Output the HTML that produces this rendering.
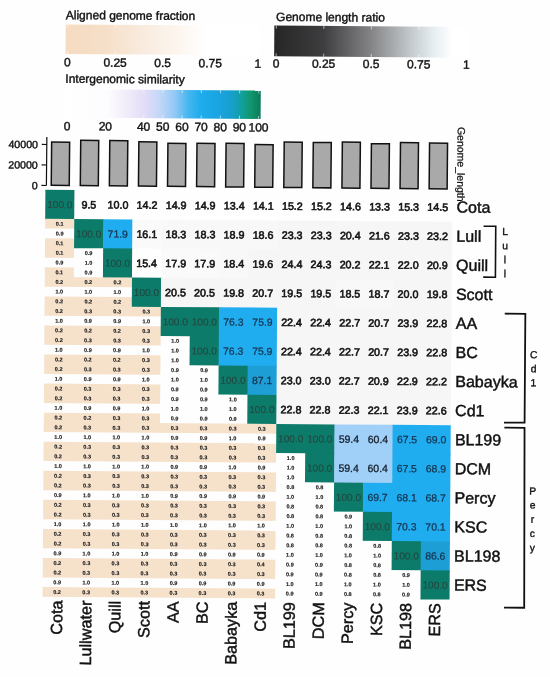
<!DOCTYPE html>
<html lang="en"><head><meta charset="utf-8"><title>Intergenomic similarity heatmap</title>
<style>
html,body{margin:0;padding:0;background:#fefefe;}
body{width:550px;height:677px;overflow:hidden;font-family:"Liberation Sans",Arial,Helvetica,sans-serif;}
svg{display:block;filter:blur(0.3px);}
</style></head><body>
<svg width="550" height="677" viewBox="0 0 550 677" font-family="'Liberation Sans', Arial, Helvetica, sans-serif">
<defs>
<linearGradient id="gfrac" x1="0" x2="1" y1="0" y2="0">
<stop offset="0" stop-color="#f5dbc1"/><stop offset="0.2" stop-color="#f6dfc8"/><stop offset="0.4" stop-color="#f9ebde"/><stop offset="0.6" stop-color="#fdf7f1"/><stop offset="0.72" stop-color="#ffffff"/><stop offset="1" stop-color="#ffffff"/>
</linearGradient>
<linearGradient id="gratio" x1="0" x2="1" y1="0" y2="0">
<stop offset="0" stop-color="#262626"/><stop offset="0.25" stop-color="#3d3d3f"/><stop offset="0.5" stop-color="#858587"/><stop offset="0.7" stop-color="#c3c8cc"/><stop offset="0.82" stop-color="#e6eef2"/><stop offset="0.92" stop-color="#ffffff"/><stop offset="1" stop-color="#ffffff"/>
</linearGradient>
<linearGradient id="gsim" x1="0" x2="1" y1="0" y2="0">
<stop offset="0" stop-color="#ffffff"/><stop offset="0.2" stop-color="#fdfcfe"/><stop offset="0.22" stop-color="#fdfbfe"/><stop offset="0.32" stop-color="#f1ebf9"/><stop offset="0.41" stop-color="#e2dcf7"/><stop offset="0.48" stop-color="#c4d8f8"/><stop offset="0.56" stop-color="#93c9f6"/><stop offset="0.63" stop-color="#45b6ef"/><stop offset="0.69" stop-color="#1fadee"/><stop offset="0.8" stop-color="#18a3de"/><stop offset="0.86" stop-color="#169fc8"/><stop offset="0.91" stop-color="#10a094"/><stop offset="0.95" stop-color="#10966c"/><stop offset="1" stop-color="#0b7a5c"/>
</linearGradient>
</defs>
<rect width="550" height="677" fill="#fefefe"/>
<g transform="rotate(0.4 45.4 189.8)">
<text x="64.60" y="19.00" font-size="12" text-anchor="start" fill="#111" stroke="#111" stroke-width="0.4">Aligned genome fraction</text>
<rect x="64.6" y="24.4" width="194.40" height="29.50" fill="url(#gfrac)"/>
<text x="66.60" y="66.20" font-size="12" text-anchor="middle" fill="#111" stroke="#111" stroke-width="0.4">0</text>
<path d="M66.60 24.4 v3 M66.60 53.9 v-3" stroke="#fff" stroke-width="0.8" opacity="0.75" fill="none"/>
<text x="114.20" y="66.20" font-size="12" text-anchor="middle" fill="#111" stroke="#111" stroke-width="0.4">0.25</text>
<path d="M114.20 24.4 v3 M114.20 53.9 v-3" stroke="#fff" stroke-width="0.8" opacity="0.75" fill="none"/>
<text x="161.80" y="66.20" font-size="12" text-anchor="middle" fill="#111" stroke="#111" stroke-width="0.4">0.5</text>
<path d="M161.80 24.4 v3 M161.80 53.9 v-3" stroke="#fff" stroke-width="0.8" opacity="0.75" fill="none"/>
<text x="209.40" y="66.20" font-size="12" text-anchor="middle" fill="#111" stroke="#111" stroke-width="0.4">0.75</text>
<path d="M209.40 24.4 v3 M209.40 53.9 v-3" stroke="#fff" stroke-width="0.8" opacity="0.75" fill="none"/>
<text x="257.00" y="66.20" font-size="12" text-anchor="middle" fill="#111" stroke="#111" stroke-width="0.4">1</text>
<path d="M257.00 24.4 v3 M257.00 53.9 v-3" stroke="#fff" stroke-width="0.8" opacity="0.75" fill="none"/>
<text x="274.90" y="19.30" font-size="12" text-anchor="start" fill="#111" stroke="#111" stroke-width="0.4">Genome length ratio</text>
<rect x="273.2" y="24.0" width="194.20" height="30.70" fill="url(#gratio)"/>
<text x="275.20" y="65.80" font-size="12" text-anchor="middle" fill="#111" stroke="#111" stroke-width="0.4">0</text>
<path d="M275.20 24.0 v3 M275.20 54.7 v-3" stroke="#fff" stroke-width="0.8" opacity="0.75" fill="none"/>
<text x="322.75" y="65.80" font-size="12" text-anchor="middle" fill="#111" stroke="#111" stroke-width="0.4">0.25</text>
<path d="M322.75 24.0 v3 M322.75 54.7 v-3" stroke="#fff" stroke-width="0.8" opacity="0.75" fill="none"/>
<text x="370.30" y="65.80" font-size="12" text-anchor="middle" fill="#111" stroke="#111" stroke-width="0.4">0.5</text>
<path d="M370.30 24.0 v3 M370.30 54.7 v-3" stroke="#fff" stroke-width="0.8" opacity="0.75" fill="none"/>
<text x="417.85" y="65.80" font-size="12" text-anchor="middle" fill="#111" stroke="#111" stroke-width="0.4">0.75</text>
<path d="M417.85 24.0 v3 M417.85 54.7 v-3" stroke="#fff" stroke-width="0.8" opacity="0.75" fill="none"/>
<text x="465.40" y="65.80" font-size="12" text-anchor="middle" fill="#111" stroke="#111" stroke-width="0.4">1</text>
<path d="M465.40 24.0 v3 M465.40 54.7 v-3" stroke="#fff" stroke-width="0.8" opacity="0.75" fill="none"/>
<text x="64.60" y="82.60" font-size="12" text-anchor="start" fill="#111" stroke="#111" stroke-width="0.4">Intergenomic similarity</text>
<rect x="64.6" y="89.0" width="195.50" height="28.40" fill="url(#gsim)"/>
<text x="66.60" y="130.00" font-size="12" text-anchor="middle" fill="#111" stroke="#111" stroke-width="0.4">0</text>
<path d="M66.60 89.0 v3 M66.60 117.4 v-3" stroke="#fff" stroke-width="0.8" opacity="0.75" fill="none"/>
<text x="104.90" y="130.00" font-size="12" text-anchor="middle" fill="#111" stroke="#111" stroke-width="0.4">20</text>
<path d="M104.90 89.0 v3 M104.90 117.4 v-3" stroke="#fff" stroke-width="0.8" opacity="0.75" fill="none"/>
<text x="143.20" y="130.00" font-size="12" text-anchor="middle" fill="#111" stroke="#111" stroke-width="0.4">40</text>
<path d="M143.20 89.0 v3 M143.20 117.4 v-3" stroke="#fff" stroke-width="0.8" opacity="0.75" fill="none"/>
<text x="162.35" y="130.00" font-size="12" text-anchor="middle" fill="#111" stroke="#111" stroke-width="0.4">50</text>
<path d="M162.35 89.0 v3 M162.35 117.4 v-3" stroke="#fff" stroke-width="0.8" opacity="0.75" fill="none"/>
<text x="181.50" y="130.00" font-size="12" text-anchor="middle" fill="#111" stroke="#111" stroke-width="0.4">60</text>
<path d="M181.50 89.0 v3 M181.50 117.4 v-3" stroke="#fff" stroke-width="0.8" opacity="0.75" fill="none"/>
<text x="200.65" y="130.00" font-size="12" text-anchor="middle" fill="#111" stroke="#111" stroke-width="0.4">70</text>
<path d="M200.65 89.0 v3 M200.65 117.4 v-3" stroke="#fff" stroke-width="0.8" opacity="0.75" fill="none"/>
<text x="219.80" y="130.00" font-size="12" text-anchor="middle" fill="#111" stroke="#111" stroke-width="0.4">80</text>
<path d="M219.80 89.0 v3 M219.80 117.4 v-3" stroke="#fff" stroke-width="0.8" opacity="0.75" fill="none"/>
<text x="238.95" y="130.00" font-size="12" text-anchor="middle" fill="#111" stroke="#111" stroke-width="0.4">90</text>
<path d="M238.95 89.0 v3 M238.95 117.4 v-3" stroke="#fff" stroke-width="0.8" opacity="0.75" fill="none"/>
<text x="258.10" y="130.00" font-size="12" text-anchor="middle" fill="#111" stroke="#111" stroke-width="0.4">100</text>
<path d="M258.10 89.0 v3 M258.10 117.4 v-3" stroke="#fff" stroke-width="0.8" opacity="0.75" fill="none"/>
</g>
<g transform="rotate(0.54 46.4 185.5)">
<path d="M46.4 137 V185.5 M41.4 144.5 H46.4 M41.4 165 H46.4 M41.4 185.5 H46.4" stroke="#111" stroke-width="1.2" fill="none"/>
<text x="37.60" y="148.30" font-size="10.6" text-anchor="end" fill="#111" stroke="#111" stroke-width="0.4">40000</text>
<text x="37.60" y="168.80" font-size="10.6" text-anchor="end" fill="#111" stroke="#111" stroke-width="0.4">20000</text>
<text x="37.60" y="189.30" font-size="10.6" text-anchor="end" fill="#111" stroke="#111" stroke-width="0.4">0</text>
<rect x="51.23" y="142.00" width="18.0" height="43.20" fill="#a9a9a9" stroke="#111" stroke-width="1.5"/>
<rect x="80.30" y="140.00" width="18.0" height="45.20" fill="#a9a9a9" stroke="#111" stroke-width="1.5"/>
<rect x="109.37" y="140.00" width="18.0" height="45.20" fill="#a9a9a9" stroke="#111" stroke-width="1.5"/>
<rect x="138.45" y="140.90" width="18.0" height="44.30" fill="#a9a9a9" stroke="#111" stroke-width="1.5"/>
<rect x="167.52" y="142.20" width="18.0" height="43.00" fill="#a9a9a9" stroke="#111" stroke-width="1.5"/>
<rect x="196.59" y="141.90" width="18.0" height="43.30" fill="#a9a9a9" stroke="#111" stroke-width="1.5"/>
<rect x="225.66" y="141.60" width="18.0" height="43.60" fill="#a9a9a9" stroke="#111" stroke-width="1.5"/>
<rect x="254.73" y="142.50" width="18.0" height="42.70" fill="#a9a9a9" stroke="#111" stroke-width="1.5"/>
<rect x="283.80" y="139.80" width="18.0" height="45.40" fill="#a9a9a9" stroke="#111" stroke-width="1.5"/>
<rect x="312.87" y="139.90" width="18.0" height="45.30" fill="#a9a9a9" stroke="#111" stroke-width="1.5"/>
<rect x="341.94" y="139.20" width="18.0" height="46.00" fill="#a9a9a9" stroke="#111" stroke-width="1.5"/>
<rect x="371.00" y="140.60" width="18.0" height="44.60" fill="#a9a9a9" stroke="#111" stroke-width="1.5"/>
<rect x="400.07" y="139.20" width="18.0" height="46.00" fill="#a9a9a9" stroke="#111" stroke-width="1.5"/>
<rect x="429.14" y="139.50" width="18.0" height="45.70" fill="#a9a9a9" stroke="#111" stroke-width="1.5"/>
</g>
<g transform="rotate(0.4 45.4 189.8)">
<text transform="translate(457.2 124.0) rotate(90)" font-size="10.5" fill="#111" stroke="#111" stroke-width="0.25">Genome_length</text>
<rect x="45.40" y="189.80" width="29.57" height="30.07" fill="#0d7b69"/>
<rect x="74.47" y="189.80" width="377.91" height="30.07" fill="#fefefe"/>
<rect x="45.40" y="218.87" width="29.57" height="10.69" fill="#f6e1cb"/>
<rect x="45.40" y="228.56" width="29.57" height="10.69" fill="#fefefe"/>
<rect x="45.40" y="238.25" width="29.57" height="10.69" fill="#f6e1cb"/>
<rect x="74.47" y="218.87" width="29.57" height="30.07" fill="#0d7b69"/>
<rect x="103.54" y="218.87" width="29.57" height="30.07" fill="#20adef"/>
<rect x="132.61" y="218.87" width="29.57" height="30.07" fill="#fafafb"/>
<rect x="161.68" y="218.87" width="116.78" height="30.07" fill="#f8f8f9"/>
<rect x="277.96" y="218.87" width="174.42" height="30.07" fill="#f6f6f7"/>
<rect x="45.40" y="247.94" width="29.57" height="10.69" fill="#f6e1cb"/>
<rect x="74.47" y="247.94" width="29.57" height="10.69" fill="#fefefe"/>
<rect x="45.40" y="257.63" width="58.64" height="10.69" fill="#fefefe"/>
<rect x="45.40" y="267.32" width="29.57" height="10.69" fill="#f6e1cb"/>
<rect x="74.47" y="267.32" width="29.57" height="10.69" fill="#fefefe"/>
<rect x="103.54" y="247.94" width="29.57" height="30.07" fill="#0d7b69"/>
<rect x="132.61" y="247.94" width="29.57" height="30.07" fill="#fefefe"/>
<rect x="161.68" y="247.94" width="58.64" height="30.07" fill="#fafafb"/>
<rect x="219.82" y="247.94" width="29.57" height="30.07" fill="#f8f8f9"/>
<rect x="248.89" y="247.94" width="203.49" height="30.07" fill="#f6f6f7"/>
<rect x="45.40" y="277.01" width="87.71" height="10.69" fill="#f6e1cb"/>
<rect x="45.40" y="286.70" width="87.71" height="10.69" fill="#fefefe"/>
<rect x="45.40" y="296.39" width="87.71" height="10.69" fill="#f6e1cb"/>
<rect x="132.61" y="277.01" width="29.57" height="30.07" fill="#0d7b69"/>
<rect x="161.68" y="277.01" width="174.92" height="30.07" fill="#f6f6f7"/>
<rect x="336.10" y="277.01" width="58.64" height="30.07" fill="#f8f8f9"/>
<rect x="394.24" y="277.01" width="58.14" height="30.07" fill="#f6f6f7"/>
<rect x="45.40" y="306.08" width="116.78" height="10.69" fill="#f6e1cb"/>
<rect x="45.40" y="315.77" width="116.78" height="10.69" fill="#fefefe"/>
<rect x="45.40" y="325.46" width="116.78" height="10.69" fill="#f6e1cb"/>
<rect x="161.68" y="306.08" width="58.64" height="30.07" fill="#0d7b69"/>
<rect x="219.82" y="306.08" width="58.64" height="30.07" fill="#20adef"/>
<rect x="277.96" y="306.08" width="174.42" height="30.07" fill="#f6f6f7"/>
<rect x="45.40" y="335.15" width="116.78" height="10.69" fill="#f6e1cb"/>
<rect x="161.68" y="335.15" width="29.57" height="10.69" fill="#fefefe"/>
<rect x="45.40" y="344.84" width="145.85" height="10.69" fill="#fefefe"/>
<rect x="45.40" y="354.53" width="116.78" height="10.69" fill="#f6e1cb"/>
<rect x="161.68" y="354.53" width="29.57" height="10.69" fill="#fefefe"/>
<rect x="190.75" y="335.15" width="29.57" height="30.07" fill="#0d7b69"/>
<rect x="219.82" y="335.15" width="58.64" height="30.07" fill="#20adef"/>
<rect x="277.96" y="335.15" width="174.42" height="30.07" fill="#f6f6f7"/>
<rect x="45.40" y="364.22" width="116.78" height="10.69" fill="#f6e1cb"/>
<rect x="161.68" y="364.22" width="58.64" height="10.69" fill="#fefefe"/>
<rect x="45.40" y="373.91" width="174.92" height="10.69" fill="#fefefe"/>
<rect x="45.40" y="383.60" width="116.78" height="10.69" fill="#f6e1cb"/>
<rect x="161.68" y="383.60" width="58.64" height="10.69" fill="#fefefe"/>
<rect x="219.82" y="364.22" width="29.57" height="30.07" fill="#0d7b69"/>
<rect x="248.89" y="364.22" width="29.57" height="30.07" fill="#1d9fd6"/>
<rect x="277.96" y="364.22" width="174.42" height="30.07" fill="#f6f6f7"/>
<rect x="45.40" y="393.29" width="116.78" height="10.69" fill="#f6e1cb"/>
<rect x="161.68" y="393.29" width="87.71" height="10.69" fill="#fefefe"/>
<rect x="45.40" y="402.98" width="203.99" height="10.69" fill="#fefefe"/>
<rect x="45.40" y="412.67" width="116.78" height="10.69" fill="#f6e1cb"/>
<rect x="161.68" y="412.67" width="87.71" height="10.69" fill="#fefefe"/>
<rect x="248.89" y="393.29" width="29.57" height="30.07" fill="#0d7b69"/>
<rect x="277.96" y="393.29" width="174.42" height="30.07" fill="#f6f6f7"/>
<rect x="45.40" y="422.36" width="233.06" height="10.69" fill="#f6e1cb"/>
<rect x="45.40" y="432.05" width="233.06" height="10.69" fill="#fefefe"/>
<rect x="45.40" y="441.74" width="233.06" height="10.69" fill="#f6e1cb"/>
<rect x="277.96" y="422.36" width="58.64" height="30.07" fill="#0d7b69"/>
<rect x="336.10" y="422.36" width="58.64" height="30.07" fill="#a0cff8"/>
<rect x="394.24" y="422.36" width="58.14" height="30.07" fill="#20adef"/>
<rect x="45.40" y="451.43" width="233.06" height="10.69" fill="#f6e1cb"/>
<rect x="277.96" y="451.43" width="29.57" height="10.69" fill="#fefefe"/>
<rect x="45.40" y="461.12" width="262.13" height="10.69" fill="#fefefe"/>
<rect x="45.40" y="470.81" width="233.06" height="10.69" fill="#f6e1cb"/>
<rect x="277.96" y="470.81" width="29.57" height="10.69" fill="#fefefe"/>
<rect x="307.03" y="451.43" width="29.57" height="30.07" fill="#0d7b69"/>
<rect x="336.10" y="451.43" width="58.64" height="30.07" fill="#a0cff8"/>
<rect x="394.24" y="451.43" width="58.14" height="30.07" fill="#20adef"/>
<rect x="45.40" y="480.50" width="233.06" height="10.69" fill="#f6e1cb"/>
<rect x="277.96" y="480.50" width="58.64" height="10.69" fill="#fefefe"/>
<rect x="45.40" y="490.19" width="291.20" height="10.69" fill="#fefefe"/>
<rect x="45.40" y="499.88" width="233.06" height="10.69" fill="#f6e1cb"/>
<rect x="277.96" y="499.88" width="58.64" height="10.69" fill="#fefefe"/>
<rect x="336.10" y="480.50" width="29.57" height="30.07" fill="#0d7b69"/>
<rect x="365.17" y="480.50" width="87.21" height="30.07" fill="#20adef"/>
<rect x="45.40" y="509.57" width="233.06" height="10.69" fill="#f6e1cb"/>
<rect x="277.96" y="509.57" width="87.71" height="10.69" fill="#fefefe"/>
<rect x="45.40" y="519.26" width="320.27" height="10.69" fill="#fefefe"/>
<rect x="45.40" y="528.95" width="233.06" height="10.69" fill="#f6e1cb"/>
<rect x="277.96" y="528.95" width="87.71" height="10.69" fill="#fefefe"/>
<rect x="365.17" y="509.57" width="29.57" height="30.07" fill="#0d7b69"/>
<rect x="394.24" y="509.57" width="58.14" height="30.07" fill="#20adef"/>
<rect x="45.40" y="538.64" width="233.06" height="10.69" fill="#f6e1cb"/>
<rect x="277.96" y="538.64" width="116.78" height="10.69" fill="#fefefe"/>
<rect x="45.40" y="548.33" width="349.34" height="10.69" fill="#fefefe"/>
<rect x="45.40" y="558.02" width="233.06" height="10.69" fill="#f6e1cb"/>
<rect x="277.96" y="558.02" width="116.78" height="10.69" fill="#fefefe"/>
<rect x="394.24" y="538.64" width="29.57" height="30.07" fill="#0d7b69"/>
<rect x="423.31" y="538.64" width="29.07" height="30.07" fill="#1d9fd6"/>
<rect x="45.40" y="567.71" width="233.06" height="10.69" fill="#f6e1cb"/>
<rect x="277.96" y="567.71" width="145.85" height="10.69" fill="#fefefe"/>
<rect x="45.40" y="577.40" width="378.41" height="10.69" fill="#fefefe"/>
<rect x="45.40" y="587.09" width="233.06" height="9.69" fill="#f6e1cb"/>
<rect x="277.96" y="587.09" width="145.85" height="9.69" fill="#fefefe"/>
<rect x="423.31" y="567.71" width="29.07" height="29.07" fill="#0d7b69"/>
<text x="59.94" y="208.03" font-size="10.1" text-anchor="middle" fill="#234740" stroke="#234740" stroke-width="0.1">100.0</text>
<text x="89.00" y="208.14" font-size="10.7" text-anchor="middle" fill="#141414" stroke="#141414" stroke-width="0.6">9.5</text>
<text x="118.07" y="208.14" font-size="10.7" text-anchor="middle" fill="#141414" stroke="#141414" stroke-width="0.6">10.0</text>
<text x="147.15" y="208.14" font-size="10.7" text-anchor="middle" fill="#141414" stroke="#141414" stroke-width="0.6">14.2</text>
<text x="176.22" y="208.14" font-size="10.7" text-anchor="middle" fill="#141414" stroke="#141414" stroke-width="0.6">14.9</text>
<text x="205.28" y="208.14" font-size="10.7" text-anchor="middle" fill="#141414" stroke="#141414" stroke-width="0.6">14.9</text>
<text x="234.36" y="208.14" font-size="10.7" text-anchor="middle" fill="#141414" stroke="#141414" stroke-width="0.6">13.4</text>
<text x="263.43" y="208.14" font-size="10.7" text-anchor="middle" fill="#141414" stroke="#141414" stroke-width="0.6">14.1</text>
<text x="292.50" y="208.14" font-size="10.7" text-anchor="middle" fill="#141414" stroke="#141414" stroke-width="0.6">15.2</text>
<text x="321.56" y="208.14" font-size="10.7" text-anchor="middle" fill="#141414" stroke="#141414" stroke-width="0.6">15.2</text>
<text x="350.63" y="208.14" font-size="10.7" text-anchor="middle" fill="#141414" stroke="#141414" stroke-width="0.6">14.6</text>
<text x="379.70" y="208.14" font-size="10.7" text-anchor="middle" fill="#141414" stroke="#141414" stroke-width="0.6">13.3</text>
<text x="408.77" y="208.14" font-size="10.7" text-anchor="middle" fill="#141414" stroke="#141414" stroke-width="0.6">15.3</text>
<text x="437.84" y="208.14" font-size="10.7" text-anchor="middle" fill="#141414" stroke="#141414" stroke-width="0.6">14.5</text>
<text x="59.94" y="225.66" font-size="5.5" text-anchor="middle" fill="#1c1c1c" font-weight="bold" stroke="#1c1c1c" stroke-width="0.15">0.1</text>
<text x="59.94" y="235.35" font-size="5.5" text-anchor="middle" fill="#1c1c1c" font-weight="bold" stroke="#1c1c1c" stroke-width="0.15">0.9</text>
<text x="59.94" y="245.04" font-size="5.5" text-anchor="middle" fill="#1c1c1c" font-weight="bold" stroke="#1c1c1c" stroke-width="0.15">0.1</text>
<text x="89.00" y="237.10" font-size="10.1" text-anchor="middle" fill="#234740" stroke="#234740" stroke-width="0.1">100.0</text>
<text x="118.07" y="237.10" font-size="10.4" text-anchor="middle" fill="#16334f" stroke="#16334f" stroke-width="0.25">71.9</text>
<text x="147.15" y="237.21" font-size="10.7" text-anchor="middle" fill="#141414" stroke="#141414" stroke-width="0.6">16.1</text>
<text x="176.22" y="237.21" font-size="10.7" text-anchor="middle" fill="#141414" stroke="#141414" stroke-width="0.6">18.3</text>
<text x="205.28" y="237.21" font-size="10.7" text-anchor="middle" fill="#141414" stroke="#141414" stroke-width="0.6">18.3</text>
<text x="234.36" y="237.21" font-size="10.7" text-anchor="middle" fill="#141414" stroke="#141414" stroke-width="0.6">18.9</text>
<text x="263.43" y="237.21" font-size="10.7" text-anchor="middle" fill="#141414" stroke="#141414" stroke-width="0.6">18.6</text>
<text x="292.50" y="237.21" font-size="10.7" text-anchor="middle" fill="#141414" stroke="#141414" stroke-width="0.6">23.3</text>
<text x="321.56" y="237.21" font-size="10.7" text-anchor="middle" fill="#141414" stroke="#141414" stroke-width="0.6">23.3</text>
<text x="350.63" y="237.21" font-size="10.7" text-anchor="middle" fill="#141414" stroke="#141414" stroke-width="0.6">20.4</text>
<text x="379.70" y="237.21" font-size="10.7" text-anchor="middle" fill="#141414" stroke="#141414" stroke-width="0.6">21.6</text>
<text x="408.77" y="237.21" font-size="10.7" text-anchor="middle" fill="#141414" stroke="#141414" stroke-width="0.6">23.3</text>
<text x="437.84" y="237.21" font-size="10.7" text-anchor="middle" fill="#141414" stroke="#141414" stroke-width="0.6">23.2</text>
<text x="59.94" y="254.73" font-size="5.5" text-anchor="middle" fill="#1c1c1c" font-weight="bold" stroke="#1c1c1c" stroke-width="0.15">0.1</text>
<text x="59.94" y="264.43" font-size="5.5" text-anchor="middle" fill="#1c1c1c" font-weight="bold" stroke="#1c1c1c" stroke-width="0.15">0.9</text>
<text x="59.94" y="274.12" font-size="5.5" text-anchor="middle" fill="#1c1c1c" font-weight="bold" stroke="#1c1c1c" stroke-width="0.15">0.1</text>
<text x="89.00" y="254.73" font-size="5.5" text-anchor="middle" fill="#1c1c1c" font-weight="bold" stroke="#1c1c1c" stroke-width="0.15">0.9</text>
<text x="89.00" y="264.43" font-size="5.5" text-anchor="middle" fill="#1c1c1c" font-weight="bold" stroke="#1c1c1c" stroke-width="0.15">1.0</text>
<text x="89.00" y="274.12" font-size="5.5" text-anchor="middle" fill="#1c1c1c" font-weight="bold" stroke="#1c1c1c" stroke-width="0.15">0.9</text>
<text x="118.07" y="266.18" font-size="10.1" text-anchor="middle" fill="#234740" stroke="#234740" stroke-width="0.1">100.0</text>
<text x="147.15" y="266.28" font-size="10.7" text-anchor="middle" fill="#141414" stroke="#141414" stroke-width="0.6">15.4</text>
<text x="176.22" y="266.28" font-size="10.7" text-anchor="middle" fill="#141414" stroke="#141414" stroke-width="0.6">17.9</text>
<text x="205.28" y="266.28" font-size="10.7" text-anchor="middle" fill="#141414" stroke="#141414" stroke-width="0.6">17.9</text>
<text x="234.36" y="266.28" font-size="10.7" text-anchor="middle" fill="#141414" stroke="#141414" stroke-width="0.6">18.4</text>
<text x="263.43" y="266.28" font-size="10.7" text-anchor="middle" fill="#141414" stroke="#141414" stroke-width="0.6">19.6</text>
<text x="292.50" y="266.28" font-size="10.7" text-anchor="middle" fill="#141414" stroke="#141414" stroke-width="0.6">24.4</text>
<text x="321.56" y="266.28" font-size="10.7" text-anchor="middle" fill="#141414" stroke="#141414" stroke-width="0.6">24.3</text>
<text x="350.63" y="266.28" font-size="10.7" text-anchor="middle" fill="#141414" stroke="#141414" stroke-width="0.6">20.2</text>
<text x="379.70" y="266.28" font-size="10.7" text-anchor="middle" fill="#141414" stroke="#141414" stroke-width="0.6">22.1</text>
<text x="408.77" y="266.28" font-size="10.7" text-anchor="middle" fill="#141414" stroke="#141414" stroke-width="0.6">22.0</text>
<text x="437.84" y="266.28" font-size="10.7" text-anchor="middle" fill="#141414" stroke="#141414" stroke-width="0.6">20.9</text>
<text x="59.94" y="283.81" font-size="5.5" text-anchor="middle" fill="#1c1c1c" font-weight="bold" stroke="#1c1c1c" stroke-width="0.15">0.2</text>
<text x="59.94" y="293.50" font-size="5.5" text-anchor="middle" fill="#1c1c1c" font-weight="bold" stroke="#1c1c1c" stroke-width="0.15">1.0</text>
<text x="59.94" y="303.19" font-size="5.5" text-anchor="middle" fill="#1c1c1c" font-weight="bold" stroke="#1c1c1c" stroke-width="0.15">0.2</text>
<text x="89.00" y="283.81" font-size="5.5" text-anchor="middle" fill="#1c1c1c" font-weight="bold" stroke="#1c1c1c" stroke-width="0.15">0.2</text>
<text x="89.00" y="293.50" font-size="5.5" text-anchor="middle" fill="#1c1c1c" font-weight="bold" stroke="#1c1c1c" stroke-width="0.15">1.0</text>
<text x="89.00" y="303.19" font-size="5.5" text-anchor="middle" fill="#1c1c1c" font-weight="bold" stroke="#1c1c1c" stroke-width="0.15">0.2</text>
<text x="118.07" y="283.81" font-size="5.5" text-anchor="middle" fill="#1c1c1c" font-weight="bold" stroke="#1c1c1c" stroke-width="0.15">0.2</text>
<text x="118.07" y="293.50" font-size="5.5" text-anchor="middle" fill="#1c1c1c" font-weight="bold" stroke="#1c1c1c" stroke-width="0.15">1.0</text>
<text x="118.07" y="303.19" font-size="5.5" text-anchor="middle" fill="#1c1c1c" font-weight="bold" stroke="#1c1c1c" stroke-width="0.15">0.2</text>
<text x="147.15" y="295.25" font-size="10.1" text-anchor="middle" fill="#234740" stroke="#234740" stroke-width="0.1">100.0</text>
<text x="176.22" y="295.35" font-size="10.7" text-anchor="middle" fill="#141414" stroke="#141414" stroke-width="0.6">20.5</text>
<text x="205.28" y="295.35" font-size="10.7" text-anchor="middle" fill="#141414" stroke="#141414" stroke-width="0.6">20.5</text>
<text x="234.36" y="295.35" font-size="10.7" text-anchor="middle" fill="#141414" stroke="#141414" stroke-width="0.6">19.8</text>
<text x="263.43" y="295.35" font-size="10.7" text-anchor="middle" fill="#141414" stroke="#141414" stroke-width="0.6">20.7</text>
<text x="292.50" y="295.35" font-size="10.7" text-anchor="middle" fill="#141414" stroke="#141414" stroke-width="0.6">19.5</text>
<text x="321.56" y="295.35" font-size="10.7" text-anchor="middle" fill="#141414" stroke="#141414" stroke-width="0.6">19.5</text>
<text x="350.63" y="295.35" font-size="10.7" text-anchor="middle" fill="#141414" stroke="#141414" stroke-width="0.6">18.5</text>
<text x="379.70" y="295.35" font-size="10.7" text-anchor="middle" fill="#141414" stroke="#141414" stroke-width="0.6">18.7</text>
<text x="408.77" y="295.35" font-size="10.7" text-anchor="middle" fill="#141414" stroke="#141414" stroke-width="0.6">20.0</text>
<text x="437.84" y="295.35" font-size="10.7" text-anchor="middle" fill="#141414" stroke="#141414" stroke-width="0.6">19.8</text>
<text x="59.94" y="312.88" font-size="5.5" text-anchor="middle" fill="#1c1c1c" font-weight="bold" stroke="#1c1c1c" stroke-width="0.15">0.2</text>
<text x="59.94" y="322.57" font-size="5.5" text-anchor="middle" fill="#1c1c1c" font-weight="bold" stroke="#1c1c1c" stroke-width="0.15">1.0</text>
<text x="59.94" y="332.26" font-size="5.5" text-anchor="middle" fill="#1c1c1c" font-weight="bold" stroke="#1c1c1c" stroke-width="0.15">0.2</text>
<text x="89.00" y="312.88" font-size="5.5" text-anchor="middle" fill="#1c1c1c" font-weight="bold" stroke="#1c1c1c" stroke-width="0.15">0.3</text>
<text x="89.00" y="322.57" font-size="5.5" text-anchor="middle" fill="#1c1c1c" font-weight="bold" stroke="#1c1c1c" stroke-width="0.15">0.9</text>
<text x="89.00" y="332.26" font-size="5.5" text-anchor="middle" fill="#1c1c1c" font-weight="bold" stroke="#1c1c1c" stroke-width="0.15">0.2</text>
<text x="118.07" y="312.88" font-size="5.5" text-anchor="middle" fill="#1c1c1c" font-weight="bold" stroke="#1c1c1c" stroke-width="0.15">0.3</text>
<text x="118.07" y="322.57" font-size="5.5" text-anchor="middle" fill="#1c1c1c" font-weight="bold" stroke="#1c1c1c" stroke-width="0.15">0.9</text>
<text x="118.07" y="332.26" font-size="5.5" text-anchor="middle" fill="#1c1c1c" font-weight="bold" stroke="#1c1c1c" stroke-width="0.15">0.2</text>
<text x="147.15" y="312.88" font-size="5.5" text-anchor="middle" fill="#1c1c1c" font-weight="bold" stroke="#1c1c1c" stroke-width="0.15">0.3</text>
<text x="147.15" y="322.57" font-size="5.5" text-anchor="middle" fill="#1c1c1c" font-weight="bold" stroke="#1c1c1c" stroke-width="0.15">1.0</text>
<text x="147.15" y="332.26" font-size="5.5" text-anchor="middle" fill="#1c1c1c" font-weight="bold" stroke="#1c1c1c" stroke-width="0.15">0.3</text>
<text x="176.22" y="324.32" font-size="10.1" text-anchor="middle" fill="#234740" stroke="#234740" stroke-width="0.1">100.0</text>
<text x="205.28" y="324.32" font-size="10.1" text-anchor="middle" fill="#234740" stroke="#234740" stroke-width="0.1">100.0</text>
<text x="234.36" y="324.32" font-size="10.4" text-anchor="middle" fill="#16334f" stroke="#16334f" stroke-width="0.25">76.3</text>
<text x="263.43" y="324.32" font-size="10.4" text-anchor="middle" fill="#16334f" stroke="#16334f" stroke-width="0.25">75.9</text>
<text x="292.50" y="324.42" font-size="10.7" text-anchor="middle" fill="#141414" stroke="#141414" stroke-width="0.6">22.4</text>
<text x="321.56" y="324.42" font-size="10.7" text-anchor="middle" fill="#141414" stroke="#141414" stroke-width="0.6">22.4</text>
<text x="350.63" y="324.42" font-size="10.7" text-anchor="middle" fill="#141414" stroke="#141414" stroke-width="0.6">22.7</text>
<text x="379.70" y="324.42" font-size="10.7" text-anchor="middle" fill="#141414" stroke="#141414" stroke-width="0.6">20.7</text>
<text x="408.77" y="324.42" font-size="10.7" text-anchor="middle" fill="#141414" stroke="#141414" stroke-width="0.6">23.9</text>
<text x="437.84" y="324.42" font-size="10.7" text-anchor="middle" fill="#141414" stroke="#141414" stroke-width="0.6">22.8</text>
<text x="59.94" y="341.94" font-size="5.5" text-anchor="middle" fill="#1c1c1c" font-weight="bold" stroke="#1c1c1c" stroke-width="0.15">0.2</text>
<text x="59.94" y="351.63" font-size="5.5" text-anchor="middle" fill="#1c1c1c" font-weight="bold" stroke="#1c1c1c" stroke-width="0.15">1.0</text>
<text x="59.94" y="361.32" font-size="5.5" text-anchor="middle" fill="#1c1c1c" font-weight="bold" stroke="#1c1c1c" stroke-width="0.15">0.2</text>
<text x="89.00" y="341.94" font-size="5.5" text-anchor="middle" fill="#1c1c1c" font-weight="bold" stroke="#1c1c1c" stroke-width="0.15">0.3</text>
<text x="89.00" y="351.63" font-size="5.5" text-anchor="middle" fill="#1c1c1c" font-weight="bold" stroke="#1c1c1c" stroke-width="0.15">0.9</text>
<text x="89.00" y="361.32" font-size="5.5" text-anchor="middle" fill="#1c1c1c" font-weight="bold" stroke="#1c1c1c" stroke-width="0.15">0.2</text>
<text x="118.07" y="341.94" font-size="5.5" text-anchor="middle" fill="#1c1c1c" font-weight="bold" stroke="#1c1c1c" stroke-width="0.15">0.3</text>
<text x="118.07" y="351.63" font-size="5.5" text-anchor="middle" fill="#1c1c1c" font-weight="bold" stroke="#1c1c1c" stroke-width="0.15">0.9</text>
<text x="118.07" y="361.32" font-size="5.5" text-anchor="middle" fill="#1c1c1c" font-weight="bold" stroke="#1c1c1c" stroke-width="0.15">0.2</text>
<text x="147.15" y="341.94" font-size="5.5" text-anchor="middle" fill="#1c1c1c" font-weight="bold" stroke="#1c1c1c" stroke-width="0.15">0.3</text>
<text x="147.15" y="351.63" font-size="5.5" text-anchor="middle" fill="#1c1c1c" font-weight="bold" stroke="#1c1c1c" stroke-width="0.15">1.0</text>
<text x="147.15" y="361.32" font-size="5.5" text-anchor="middle" fill="#1c1c1c" font-weight="bold" stroke="#1c1c1c" stroke-width="0.15">0.3</text>
<text x="176.22" y="341.94" font-size="5.5" text-anchor="middle" fill="#1c1c1c" font-weight="bold" stroke="#1c1c1c" stroke-width="0.15">1.0</text>
<text x="176.22" y="351.63" font-size="5.5" text-anchor="middle" fill="#1c1c1c" font-weight="bold" stroke="#1c1c1c" stroke-width="0.15">1.0</text>
<text x="176.22" y="361.32" font-size="5.5" text-anchor="middle" fill="#1c1c1c" font-weight="bold" stroke="#1c1c1c" stroke-width="0.15">1.0</text>
<text x="205.28" y="353.38" font-size="10.1" text-anchor="middle" fill="#234740" stroke="#234740" stroke-width="0.1">100.0</text>
<text x="234.36" y="353.38" font-size="10.4" text-anchor="middle" fill="#16334f" stroke="#16334f" stroke-width="0.25">76.3</text>
<text x="263.43" y="353.38" font-size="10.4" text-anchor="middle" fill="#16334f" stroke="#16334f" stroke-width="0.25">75.9</text>
<text x="292.50" y="353.49" font-size="10.7" text-anchor="middle" fill="#141414" stroke="#141414" stroke-width="0.6">22.4</text>
<text x="321.56" y="353.49" font-size="10.7" text-anchor="middle" fill="#141414" stroke="#141414" stroke-width="0.6">22.4</text>
<text x="350.63" y="353.49" font-size="10.7" text-anchor="middle" fill="#141414" stroke="#141414" stroke-width="0.6">22.7</text>
<text x="379.70" y="353.49" font-size="10.7" text-anchor="middle" fill="#141414" stroke="#141414" stroke-width="0.6">20.7</text>
<text x="408.77" y="353.49" font-size="10.7" text-anchor="middle" fill="#141414" stroke="#141414" stroke-width="0.6">23.9</text>
<text x="437.84" y="353.49" font-size="10.7" text-anchor="middle" fill="#141414" stroke="#141414" stroke-width="0.6">22.8</text>
<text x="59.94" y="371.02" font-size="5.5" text-anchor="middle" fill="#1c1c1c" font-weight="bold" stroke="#1c1c1c" stroke-width="0.15">0.2</text>
<text x="59.94" y="380.71" font-size="5.5" text-anchor="middle" fill="#1c1c1c" font-weight="bold" stroke="#1c1c1c" stroke-width="0.15">1.0</text>
<text x="59.94" y="390.40" font-size="5.5" text-anchor="middle" fill="#1c1c1c" font-weight="bold" stroke="#1c1c1c" stroke-width="0.15">0.2</text>
<text x="89.00" y="371.02" font-size="5.5" text-anchor="middle" fill="#1c1c1c" font-weight="bold" stroke="#1c1c1c" stroke-width="0.15">0.3</text>
<text x="89.00" y="380.71" font-size="5.5" text-anchor="middle" fill="#1c1c1c" font-weight="bold" stroke="#1c1c1c" stroke-width="0.15">0.9</text>
<text x="89.00" y="390.40" font-size="5.5" text-anchor="middle" fill="#1c1c1c" font-weight="bold" stroke="#1c1c1c" stroke-width="0.15">0.3</text>
<text x="118.07" y="371.02" font-size="5.5" text-anchor="middle" fill="#1c1c1c" font-weight="bold" stroke="#1c1c1c" stroke-width="0.15">0.3</text>
<text x="118.07" y="380.71" font-size="5.5" text-anchor="middle" fill="#1c1c1c" font-weight="bold" stroke="#1c1c1c" stroke-width="0.15">0.9</text>
<text x="118.07" y="390.40" font-size="5.5" text-anchor="middle" fill="#1c1c1c" font-weight="bold" stroke="#1c1c1c" stroke-width="0.15">0.3</text>
<text x="147.15" y="371.02" font-size="5.5" text-anchor="middle" fill="#1c1c1c" font-weight="bold" stroke="#1c1c1c" stroke-width="0.15">0.3</text>
<text x="147.15" y="380.71" font-size="5.5" text-anchor="middle" fill="#1c1c1c" font-weight="bold" stroke="#1c1c1c" stroke-width="0.15">1.0</text>
<text x="147.15" y="390.40" font-size="5.5" text-anchor="middle" fill="#1c1c1c" font-weight="bold" stroke="#1c1c1c" stroke-width="0.15">0.3</text>
<text x="176.22" y="371.02" font-size="5.5" text-anchor="middle" fill="#1c1c1c" font-weight="bold" stroke="#1c1c1c" stroke-width="0.15">0.9</text>
<text x="176.22" y="380.71" font-size="5.5" text-anchor="middle" fill="#1c1c1c" font-weight="bold" stroke="#1c1c1c" stroke-width="0.15">1.0</text>
<text x="176.22" y="390.40" font-size="5.5" text-anchor="middle" fill="#1c1c1c" font-weight="bold" stroke="#1c1c1c" stroke-width="0.15">0.9</text>
<text x="205.28" y="371.02" font-size="5.5" text-anchor="middle" fill="#1c1c1c" font-weight="bold" stroke="#1c1c1c" stroke-width="0.15">0.9</text>
<text x="205.28" y="380.71" font-size="5.5" text-anchor="middle" fill="#1c1c1c" font-weight="bold" stroke="#1c1c1c" stroke-width="0.15">1.0</text>
<text x="205.28" y="390.40" font-size="5.5" text-anchor="middle" fill="#1c1c1c" font-weight="bold" stroke="#1c1c1c" stroke-width="0.15">0.9</text>
<text x="234.36" y="382.46" font-size="10.1" text-anchor="middle" fill="#234740" stroke="#234740" stroke-width="0.1">100.0</text>
<text x="263.43" y="382.46" font-size="10.4" text-anchor="middle" fill="#16334f" stroke="#16334f" stroke-width="0.25">87.1</text>
<text x="292.50" y="382.56" font-size="10.7" text-anchor="middle" fill="#141414" stroke="#141414" stroke-width="0.6">23.0</text>
<text x="321.56" y="382.56" font-size="10.7" text-anchor="middle" fill="#141414" stroke="#141414" stroke-width="0.6">23.0</text>
<text x="350.63" y="382.56" font-size="10.7" text-anchor="middle" fill="#141414" stroke="#141414" stroke-width="0.6">22.7</text>
<text x="379.70" y="382.56" font-size="10.7" text-anchor="middle" fill="#141414" stroke="#141414" stroke-width="0.6">20.9</text>
<text x="408.77" y="382.56" font-size="10.7" text-anchor="middle" fill="#141414" stroke="#141414" stroke-width="0.6">22.9</text>
<text x="437.84" y="382.56" font-size="10.7" text-anchor="middle" fill="#141414" stroke="#141414" stroke-width="0.6">22.2</text>
<text x="59.94" y="400.09" font-size="5.5" text-anchor="middle" fill="#1c1c1c" font-weight="bold" stroke="#1c1c1c" stroke-width="0.15">0.2</text>
<text x="59.94" y="409.78" font-size="5.5" text-anchor="middle" fill="#1c1c1c" font-weight="bold" stroke="#1c1c1c" stroke-width="0.15">1.0</text>
<text x="59.94" y="419.47" font-size="5.5" text-anchor="middle" fill="#1c1c1c" font-weight="bold" stroke="#1c1c1c" stroke-width="0.15">0.2</text>
<text x="89.00" y="400.09" font-size="5.5" text-anchor="middle" fill="#1c1c1c" font-weight="bold" stroke="#1c1c1c" stroke-width="0.15">0.3</text>
<text x="89.00" y="409.78" font-size="5.5" text-anchor="middle" fill="#1c1c1c" font-weight="bold" stroke="#1c1c1c" stroke-width="0.15">0.9</text>
<text x="89.00" y="419.47" font-size="5.5" text-anchor="middle" fill="#1c1c1c" font-weight="bold" stroke="#1c1c1c" stroke-width="0.15">0.2</text>
<text x="118.07" y="400.09" font-size="5.5" text-anchor="middle" fill="#1c1c1c" font-weight="bold" stroke="#1c1c1c" stroke-width="0.15">0.3</text>
<text x="118.07" y="409.78" font-size="5.5" text-anchor="middle" fill="#1c1c1c" font-weight="bold" stroke="#1c1c1c" stroke-width="0.15">0.9</text>
<text x="118.07" y="419.47" font-size="5.5" text-anchor="middle" fill="#1c1c1c" font-weight="bold" stroke="#1c1c1c" stroke-width="0.15">0.3</text>
<text x="147.15" y="400.09" font-size="5.5" text-anchor="middle" fill="#1c1c1c" font-weight="bold" stroke="#1c1c1c" stroke-width="0.15">0.3</text>
<text x="147.15" y="409.78" font-size="5.5" text-anchor="middle" fill="#1c1c1c" font-weight="bold" stroke="#1c1c1c" stroke-width="0.15">1.0</text>
<text x="147.15" y="419.47" font-size="5.5" text-anchor="middle" fill="#1c1c1c" font-weight="bold" stroke="#1c1c1c" stroke-width="0.15">0.3</text>
<text x="176.22" y="400.09" font-size="5.5" text-anchor="middle" fill="#1c1c1c" font-weight="bold" stroke="#1c1c1c" stroke-width="0.15">0.9</text>
<text x="176.22" y="409.78" font-size="5.5" text-anchor="middle" fill="#1c1c1c" font-weight="bold" stroke="#1c1c1c" stroke-width="0.15">1.0</text>
<text x="176.22" y="419.47" font-size="5.5" text-anchor="middle" fill="#1c1c1c" font-weight="bold" stroke="#1c1c1c" stroke-width="0.15">0.9</text>
<text x="205.28" y="400.09" font-size="5.5" text-anchor="middle" fill="#1c1c1c" font-weight="bold" stroke="#1c1c1c" stroke-width="0.15">0.9</text>
<text x="205.28" y="409.78" font-size="5.5" text-anchor="middle" fill="#1c1c1c" font-weight="bold" stroke="#1c1c1c" stroke-width="0.15">1.0</text>
<text x="205.28" y="419.47" font-size="5.5" text-anchor="middle" fill="#1c1c1c" font-weight="bold" stroke="#1c1c1c" stroke-width="0.15">0.9</text>
<text x="234.36" y="400.09" font-size="5.5" text-anchor="middle" fill="#1c1c1c" font-weight="bold" stroke="#1c1c1c" stroke-width="0.15">1.0</text>
<text x="234.36" y="409.78" font-size="5.5" text-anchor="middle" fill="#1c1c1c" font-weight="bold" stroke="#1c1c1c" stroke-width="0.15">1.0</text>
<text x="234.36" y="419.47" font-size="5.5" text-anchor="middle" fill="#1c1c1c" font-weight="bold" stroke="#1c1c1c" stroke-width="0.15">0.9</text>
<text x="263.43" y="411.53" font-size="10.1" text-anchor="middle" fill="#234740" stroke="#234740" stroke-width="0.1">100.0</text>
<text x="292.50" y="411.63" font-size="10.7" text-anchor="middle" fill="#141414" stroke="#141414" stroke-width="0.6">22.8</text>
<text x="321.56" y="411.63" font-size="10.7" text-anchor="middle" fill="#141414" stroke="#141414" stroke-width="0.6">22.8</text>
<text x="350.63" y="411.63" font-size="10.7" text-anchor="middle" fill="#141414" stroke="#141414" stroke-width="0.6">22.3</text>
<text x="379.70" y="411.63" font-size="10.7" text-anchor="middle" fill="#141414" stroke="#141414" stroke-width="0.6">22.1</text>
<text x="408.77" y="411.63" font-size="10.7" text-anchor="middle" fill="#141414" stroke="#141414" stroke-width="0.6">23.9</text>
<text x="437.84" y="411.63" font-size="10.7" text-anchor="middle" fill="#141414" stroke="#141414" stroke-width="0.6">22.6</text>
<text x="59.94" y="429.16" font-size="5.5" text-anchor="middle" fill="#1c1c1c" font-weight="bold" stroke="#1c1c1c" stroke-width="0.15">0.2</text>
<text x="59.94" y="438.85" font-size="5.5" text-anchor="middle" fill="#1c1c1c" font-weight="bold" stroke="#1c1c1c" stroke-width="0.15">1.0</text>
<text x="59.94" y="448.54" font-size="5.5" text-anchor="middle" fill="#1c1c1c" font-weight="bold" stroke="#1c1c1c" stroke-width="0.15">0.2</text>
<text x="89.00" y="429.16" font-size="5.5" text-anchor="middle" fill="#1c1c1c" font-weight="bold" stroke="#1c1c1c" stroke-width="0.15">0.3</text>
<text x="89.00" y="438.85" font-size="5.5" text-anchor="middle" fill="#1c1c1c" font-weight="bold" stroke="#1c1c1c" stroke-width="0.15">1.0</text>
<text x="89.00" y="448.54" font-size="5.5" text-anchor="middle" fill="#1c1c1c" font-weight="bold" stroke="#1c1c1c" stroke-width="0.15">0.3</text>
<text x="118.07" y="429.16" font-size="5.5" text-anchor="middle" fill="#1c1c1c" font-weight="bold" stroke="#1c1c1c" stroke-width="0.15">0.3</text>
<text x="118.07" y="438.85" font-size="5.5" text-anchor="middle" fill="#1c1c1c" font-weight="bold" stroke="#1c1c1c" stroke-width="0.15">1.0</text>
<text x="118.07" y="448.54" font-size="5.5" text-anchor="middle" fill="#1c1c1c" font-weight="bold" stroke="#1c1c1c" stroke-width="0.15">0.3</text>
<text x="147.15" y="429.16" font-size="5.5" text-anchor="middle" fill="#1c1c1c" font-weight="bold" stroke="#1c1c1c" stroke-width="0.15">0.3</text>
<text x="147.15" y="438.85" font-size="5.5" text-anchor="middle" fill="#1c1c1c" font-weight="bold" stroke="#1c1c1c" stroke-width="0.15">1.0</text>
<text x="147.15" y="448.54" font-size="5.5" text-anchor="middle" fill="#1c1c1c" font-weight="bold" stroke="#1c1c1c" stroke-width="0.15">0.3</text>
<text x="176.22" y="429.16" font-size="5.5" text-anchor="middle" fill="#1c1c1c" font-weight="bold" stroke="#1c1c1c" stroke-width="0.15">0.3</text>
<text x="176.22" y="438.85" font-size="5.5" text-anchor="middle" fill="#1c1c1c" font-weight="bold" stroke="#1c1c1c" stroke-width="0.15">0.9</text>
<text x="176.22" y="448.54" font-size="5.5" text-anchor="middle" fill="#1c1c1c" font-weight="bold" stroke="#1c1c1c" stroke-width="0.15">0.3</text>
<text x="205.28" y="429.16" font-size="5.5" text-anchor="middle" fill="#1c1c1c" font-weight="bold" stroke="#1c1c1c" stroke-width="0.15">0.3</text>
<text x="205.28" y="438.85" font-size="5.5" text-anchor="middle" fill="#1c1c1c" font-weight="bold" stroke="#1c1c1c" stroke-width="0.15">0.9</text>
<text x="205.28" y="448.54" font-size="5.5" text-anchor="middle" fill="#1c1c1c" font-weight="bold" stroke="#1c1c1c" stroke-width="0.15">0.3</text>
<text x="234.36" y="429.16" font-size="5.5" text-anchor="middle" fill="#1c1c1c" font-weight="bold" stroke="#1c1c1c" stroke-width="0.15">0.3</text>
<text x="234.36" y="438.85" font-size="5.5" text-anchor="middle" fill="#1c1c1c" font-weight="bold" stroke="#1c1c1c" stroke-width="0.15">1.0</text>
<text x="234.36" y="448.54" font-size="5.5" text-anchor="middle" fill="#1c1c1c" font-weight="bold" stroke="#1c1c1c" stroke-width="0.15">0.3</text>
<text x="263.43" y="429.16" font-size="5.5" text-anchor="middle" fill="#1c1c1c" font-weight="bold" stroke="#1c1c1c" stroke-width="0.15">0.3</text>
<text x="263.43" y="438.85" font-size="5.5" text-anchor="middle" fill="#1c1c1c" font-weight="bold" stroke="#1c1c1c" stroke-width="0.15">0.9</text>
<text x="263.43" y="448.54" font-size="5.5" text-anchor="middle" fill="#1c1c1c" font-weight="bold" stroke="#1c1c1c" stroke-width="0.15">0.3</text>
<text x="292.50" y="440.60" font-size="10.1" text-anchor="middle" fill="#234740" stroke="#234740" stroke-width="0.1">100.0</text>
<text x="321.56" y="440.60" font-size="10.1" text-anchor="middle" fill="#234740" stroke="#234740" stroke-width="0.1">100.0</text>
<text x="350.63" y="440.70" font-size="10.5" text-anchor="middle" fill="#16202c" stroke="#16202c" stroke-width="0.3">59.4</text>
<text x="379.70" y="440.70" font-size="10.5" text-anchor="middle" fill="#16202c" stroke="#16202c" stroke-width="0.3">60.4</text>
<text x="408.77" y="440.60" font-size="10.4" text-anchor="middle" fill="#16334f" stroke="#16334f" stroke-width="0.25">67.5</text>
<text x="437.84" y="440.60" font-size="10.4" text-anchor="middle" fill="#16334f" stroke="#16334f" stroke-width="0.25">69.0</text>
<text x="59.94" y="458.23" font-size="5.5" text-anchor="middle" fill="#1c1c1c" font-weight="bold" stroke="#1c1c1c" stroke-width="0.15">0.2</text>
<text x="59.94" y="467.92" font-size="5.5" text-anchor="middle" fill="#1c1c1c" font-weight="bold" stroke="#1c1c1c" stroke-width="0.15">1.0</text>
<text x="59.94" y="477.61" font-size="5.5" text-anchor="middle" fill="#1c1c1c" font-weight="bold" stroke="#1c1c1c" stroke-width="0.15">0.2</text>
<text x="89.00" y="458.23" font-size="5.5" text-anchor="middle" fill="#1c1c1c" font-weight="bold" stroke="#1c1c1c" stroke-width="0.15">0.3</text>
<text x="89.00" y="467.92" font-size="5.5" text-anchor="middle" fill="#1c1c1c" font-weight="bold" stroke="#1c1c1c" stroke-width="0.15">1.0</text>
<text x="89.00" y="477.61" font-size="5.5" text-anchor="middle" fill="#1c1c1c" font-weight="bold" stroke="#1c1c1c" stroke-width="0.15">0.3</text>
<text x="118.07" y="458.23" font-size="5.5" text-anchor="middle" fill="#1c1c1c" font-weight="bold" stroke="#1c1c1c" stroke-width="0.15">0.3</text>
<text x="118.07" y="467.92" font-size="5.5" text-anchor="middle" fill="#1c1c1c" font-weight="bold" stroke="#1c1c1c" stroke-width="0.15">1.0</text>
<text x="118.07" y="477.61" font-size="5.5" text-anchor="middle" fill="#1c1c1c" font-weight="bold" stroke="#1c1c1c" stroke-width="0.15">0.3</text>
<text x="147.15" y="458.23" font-size="5.5" text-anchor="middle" fill="#1c1c1c" font-weight="bold" stroke="#1c1c1c" stroke-width="0.15">0.3</text>
<text x="147.15" y="467.92" font-size="5.5" text-anchor="middle" fill="#1c1c1c" font-weight="bold" stroke="#1c1c1c" stroke-width="0.15">1.0</text>
<text x="147.15" y="477.61" font-size="5.5" text-anchor="middle" fill="#1c1c1c" font-weight="bold" stroke="#1c1c1c" stroke-width="0.15">0.3</text>
<text x="176.22" y="458.23" font-size="5.5" text-anchor="middle" fill="#1c1c1c" font-weight="bold" stroke="#1c1c1c" stroke-width="0.15">0.3</text>
<text x="176.22" y="467.92" font-size="5.5" text-anchor="middle" fill="#1c1c1c" font-weight="bold" stroke="#1c1c1c" stroke-width="0.15">0.9</text>
<text x="176.22" y="477.61" font-size="5.5" text-anchor="middle" fill="#1c1c1c" font-weight="bold" stroke="#1c1c1c" stroke-width="0.15">0.3</text>
<text x="205.28" y="458.23" font-size="5.5" text-anchor="middle" fill="#1c1c1c" font-weight="bold" stroke="#1c1c1c" stroke-width="0.15">0.3</text>
<text x="205.28" y="467.92" font-size="5.5" text-anchor="middle" fill="#1c1c1c" font-weight="bold" stroke="#1c1c1c" stroke-width="0.15">0.9</text>
<text x="205.28" y="477.61" font-size="5.5" text-anchor="middle" fill="#1c1c1c" font-weight="bold" stroke="#1c1c1c" stroke-width="0.15">0.3</text>
<text x="234.36" y="458.23" font-size="5.5" text-anchor="middle" fill="#1c1c1c" font-weight="bold" stroke="#1c1c1c" stroke-width="0.15">0.3</text>
<text x="234.36" y="467.92" font-size="5.5" text-anchor="middle" fill="#1c1c1c" font-weight="bold" stroke="#1c1c1c" stroke-width="0.15">1.0</text>
<text x="234.36" y="477.61" font-size="5.5" text-anchor="middle" fill="#1c1c1c" font-weight="bold" stroke="#1c1c1c" stroke-width="0.15">0.3</text>
<text x="263.43" y="458.23" font-size="5.5" text-anchor="middle" fill="#1c1c1c" font-weight="bold" stroke="#1c1c1c" stroke-width="0.15">0.3</text>
<text x="263.43" y="467.92" font-size="5.5" text-anchor="middle" fill="#1c1c1c" font-weight="bold" stroke="#1c1c1c" stroke-width="0.15">0.9</text>
<text x="263.43" y="477.61" font-size="5.5" text-anchor="middle" fill="#1c1c1c" font-weight="bold" stroke="#1c1c1c" stroke-width="0.15">0.3</text>
<text x="292.50" y="458.23" font-size="5.5" text-anchor="middle" fill="#1c1c1c" font-weight="bold" stroke="#1c1c1c" stroke-width="0.15">1.0</text>
<text x="292.50" y="467.92" font-size="5.5" text-anchor="middle" fill="#1c1c1c" font-weight="bold" stroke="#1c1c1c" stroke-width="0.15">1.0</text>
<text x="292.50" y="477.61" font-size="5.5" text-anchor="middle" fill="#1c1c1c" font-weight="bold" stroke="#1c1c1c" stroke-width="0.15">1.0</text>
<text x="321.56" y="469.67" font-size="10.1" text-anchor="middle" fill="#234740" stroke="#234740" stroke-width="0.1">100.0</text>
<text x="350.63" y="469.77" font-size="10.5" text-anchor="middle" fill="#16202c" stroke="#16202c" stroke-width="0.3">59.4</text>
<text x="379.70" y="469.77" font-size="10.5" text-anchor="middle" fill="#16202c" stroke="#16202c" stroke-width="0.3">60.4</text>
<text x="408.77" y="469.67" font-size="10.4" text-anchor="middle" fill="#16334f" stroke="#16334f" stroke-width="0.25">67.5</text>
<text x="437.84" y="469.67" font-size="10.4" text-anchor="middle" fill="#16334f" stroke="#16334f" stroke-width="0.25">68.9</text>
<text x="59.94" y="487.30" font-size="5.5" text-anchor="middle" fill="#1c1c1c" font-weight="bold" stroke="#1c1c1c" stroke-width="0.15">0.2</text>
<text x="59.94" y="496.99" font-size="5.5" text-anchor="middle" fill="#1c1c1c" font-weight="bold" stroke="#1c1c1c" stroke-width="0.15">0.9</text>
<text x="59.94" y="506.68" font-size="5.5" text-anchor="middle" fill="#1c1c1c" font-weight="bold" stroke="#1c1c1c" stroke-width="0.15">0.2</text>
<text x="89.00" y="487.30" font-size="5.5" text-anchor="middle" fill="#1c1c1c" font-weight="bold" stroke="#1c1c1c" stroke-width="0.15">0.3</text>
<text x="89.00" y="496.99" font-size="5.5" text-anchor="middle" fill="#1c1c1c" font-weight="bold" stroke="#1c1c1c" stroke-width="0.15">1.0</text>
<text x="89.00" y="506.68" font-size="5.5" text-anchor="middle" fill="#1c1c1c" font-weight="bold" stroke="#1c1c1c" stroke-width="0.15">0.3</text>
<text x="118.07" y="487.30" font-size="5.5" text-anchor="middle" fill="#1c1c1c" font-weight="bold" stroke="#1c1c1c" stroke-width="0.15">0.3</text>
<text x="118.07" y="496.99" font-size="5.5" text-anchor="middle" fill="#1c1c1c" font-weight="bold" stroke="#1c1c1c" stroke-width="0.15">1.0</text>
<text x="118.07" y="506.68" font-size="5.5" text-anchor="middle" fill="#1c1c1c" font-weight="bold" stroke="#1c1c1c" stroke-width="0.15">0.3</text>
<text x="147.15" y="487.30" font-size="5.5" text-anchor="middle" fill="#1c1c1c" font-weight="bold" stroke="#1c1c1c" stroke-width="0.15">0.3</text>
<text x="147.15" y="496.99" font-size="5.5" text-anchor="middle" fill="#1c1c1c" font-weight="bold" stroke="#1c1c1c" stroke-width="0.15">1.0</text>
<text x="147.15" y="506.68" font-size="5.5" text-anchor="middle" fill="#1c1c1c" font-weight="bold" stroke="#1c1c1c" stroke-width="0.15">0.3</text>
<text x="176.22" y="487.30" font-size="5.5" text-anchor="middle" fill="#1c1c1c" font-weight="bold" stroke="#1c1c1c" stroke-width="0.15">0.3</text>
<text x="176.22" y="496.99" font-size="5.5" text-anchor="middle" fill="#1c1c1c" font-weight="bold" stroke="#1c1c1c" stroke-width="0.15">0.9</text>
<text x="176.22" y="506.68" font-size="5.5" text-anchor="middle" fill="#1c1c1c" font-weight="bold" stroke="#1c1c1c" stroke-width="0.15">0.3</text>
<text x="205.28" y="487.30" font-size="5.5" text-anchor="middle" fill="#1c1c1c" font-weight="bold" stroke="#1c1c1c" stroke-width="0.15">0.3</text>
<text x="205.28" y="496.99" font-size="5.5" text-anchor="middle" fill="#1c1c1c" font-weight="bold" stroke="#1c1c1c" stroke-width="0.15">0.9</text>
<text x="205.28" y="506.68" font-size="5.5" text-anchor="middle" fill="#1c1c1c" font-weight="bold" stroke="#1c1c1c" stroke-width="0.15">0.3</text>
<text x="234.36" y="487.30" font-size="5.5" text-anchor="middle" fill="#1c1c1c" font-weight="bold" stroke="#1c1c1c" stroke-width="0.15">0.3</text>
<text x="234.36" y="496.99" font-size="5.5" text-anchor="middle" fill="#1c1c1c" font-weight="bold" stroke="#1c1c1c" stroke-width="0.15">0.9</text>
<text x="234.36" y="506.68" font-size="5.5" text-anchor="middle" fill="#1c1c1c" font-weight="bold" stroke="#1c1c1c" stroke-width="0.15">0.3</text>
<text x="263.43" y="487.30" font-size="5.5" text-anchor="middle" fill="#1c1c1c" font-weight="bold" stroke="#1c1c1c" stroke-width="0.15">0.3</text>
<text x="263.43" y="496.99" font-size="5.5" text-anchor="middle" fill="#1c1c1c" font-weight="bold" stroke="#1c1c1c" stroke-width="0.15">0.9</text>
<text x="263.43" y="506.68" font-size="5.5" text-anchor="middle" fill="#1c1c1c" font-weight="bold" stroke="#1c1c1c" stroke-width="0.15">0.3</text>
<text x="292.50" y="487.30" font-size="5.5" text-anchor="middle" fill="#1c1c1c" font-weight="bold" stroke="#1c1c1c" stroke-width="0.15">0.8</text>
<text x="292.50" y="496.99" font-size="5.5" text-anchor="middle" fill="#1c1c1c" font-weight="bold" stroke="#1c1c1c" stroke-width="0.15">1.0</text>
<text x="292.50" y="506.68" font-size="5.5" text-anchor="middle" fill="#1c1c1c" font-weight="bold" stroke="#1c1c1c" stroke-width="0.15">0.8</text>
<text x="321.56" y="487.30" font-size="5.5" text-anchor="middle" fill="#1c1c1c" font-weight="bold" stroke="#1c1c1c" stroke-width="0.15">0.8</text>
<text x="321.56" y="496.99" font-size="5.5" text-anchor="middle" fill="#1c1c1c" font-weight="bold" stroke="#1c1c1c" stroke-width="0.15">1.0</text>
<text x="321.56" y="506.68" font-size="5.5" text-anchor="middle" fill="#1c1c1c" font-weight="bold" stroke="#1c1c1c" stroke-width="0.15">0.8</text>
<text x="350.63" y="498.74" font-size="10.1" text-anchor="middle" fill="#234740" stroke="#234740" stroke-width="0.1">100.0</text>
<text x="379.70" y="498.74" font-size="10.4" text-anchor="middle" fill="#16334f" stroke="#16334f" stroke-width="0.25">69.7</text>
<text x="408.77" y="498.74" font-size="10.4" text-anchor="middle" fill="#16334f" stroke="#16334f" stroke-width="0.25">68.1</text>
<text x="437.84" y="498.74" font-size="10.4" text-anchor="middle" fill="#16334f" stroke="#16334f" stroke-width="0.25">68.7</text>
<text x="59.94" y="516.37" font-size="5.5" text-anchor="middle" fill="#1c1c1c" font-weight="bold" stroke="#1c1c1c" stroke-width="0.15">0.2</text>
<text x="59.94" y="526.06" font-size="5.5" text-anchor="middle" fill="#1c1c1c" font-weight="bold" stroke="#1c1c1c" stroke-width="0.15">1.0</text>
<text x="59.94" y="535.75" font-size="5.5" text-anchor="middle" fill="#1c1c1c" font-weight="bold" stroke="#1c1c1c" stroke-width="0.15">0.2</text>
<text x="89.00" y="516.37" font-size="5.5" text-anchor="middle" fill="#1c1c1c" font-weight="bold" stroke="#1c1c1c" stroke-width="0.15">0.3</text>
<text x="89.00" y="526.06" font-size="5.5" text-anchor="middle" fill="#1c1c1c" font-weight="bold" stroke="#1c1c1c" stroke-width="0.15">1.0</text>
<text x="89.00" y="535.75" font-size="5.5" text-anchor="middle" fill="#1c1c1c" font-weight="bold" stroke="#1c1c1c" stroke-width="0.15">0.3</text>
<text x="118.07" y="516.37" font-size="5.5" text-anchor="middle" fill="#1c1c1c" font-weight="bold" stroke="#1c1c1c" stroke-width="0.15">0.3</text>
<text x="118.07" y="526.06" font-size="5.5" text-anchor="middle" fill="#1c1c1c" font-weight="bold" stroke="#1c1c1c" stroke-width="0.15">1.0</text>
<text x="118.07" y="535.75" font-size="5.5" text-anchor="middle" fill="#1c1c1c" font-weight="bold" stroke="#1c1c1c" stroke-width="0.15">0.3</text>
<text x="147.15" y="516.37" font-size="5.5" text-anchor="middle" fill="#1c1c1c" font-weight="bold" stroke="#1c1c1c" stroke-width="0.15">0.3</text>
<text x="147.15" y="526.06" font-size="5.5" text-anchor="middle" fill="#1c1c1c" font-weight="bold" stroke="#1c1c1c" stroke-width="0.15">1.0</text>
<text x="147.15" y="535.75" font-size="5.5" text-anchor="middle" fill="#1c1c1c" font-weight="bold" stroke="#1c1c1c" stroke-width="0.15">0.3</text>
<text x="176.22" y="516.37" font-size="5.5" text-anchor="middle" fill="#1c1c1c" font-weight="bold" stroke="#1c1c1c" stroke-width="0.15">0.3</text>
<text x="176.22" y="526.06" font-size="5.5" text-anchor="middle" fill="#1c1c1c" font-weight="bold" stroke="#1c1c1c" stroke-width="0.15">1.0</text>
<text x="176.22" y="535.75" font-size="5.5" text-anchor="middle" fill="#1c1c1c" font-weight="bold" stroke="#1c1c1c" stroke-width="0.15">0.3</text>
<text x="205.28" y="516.37" font-size="5.5" text-anchor="middle" fill="#1c1c1c" font-weight="bold" stroke="#1c1c1c" stroke-width="0.15">0.3</text>
<text x="205.28" y="526.06" font-size="5.5" text-anchor="middle" fill="#1c1c1c" font-weight="bold" stroke="#1c1c1c" stroke-width="0.15">1.0</text>
<text x="205.28" y="535.75" font-size="5.5" text-anchor="middle" fill="#1c1c1c" font-weight="bold" stroke="#1c1c1c" stroke-width="0.15">0.3</text>
<text x="234.36" y="516.37" font-size="5.5" text-anchor="middle" fill="#1c1c1c" font-weight="bold" stroke="#1c1c1c" stroke-width="0.15">0.3</text>
<text x="234.36" y="526.06" font-size="5.5" text-anchor="middle" fill="#1c1c1c" font-weight="bold" stroke="#1c1c1c" stroke-width="0.15">1.0</text>
<text x="234.36" y="535.75" font-size="5.5" text-anchor="middle" fill="#1c1c1c" font-weight="bold" stroke="#1c1c1c" stroke-width="0.15">0.3</text>
<text x="263.43" y="516.37" font-size="5.5" text-anchor="middle" fill="#1c1c1c" font-weight="bold" stroke="#1c1c1c" stroke-width="0.15">0.3</text>
<text x="263.43" y="526.06" font-size="5.5" text-anchor="middle" fill="#1c1c1c" font-weight="bold" stroke="#1c1c1c" stroke-width="0.15">1.0</text>
<text x="263.43" y="535.75" font-size="5.5" text-anchor="middle" fill="#1c1c1c" font-weight="bold" stroke="#1c1c1c" stroke-width="0.15">0.3</text>
<text x="292.50" y="516.37" font-size="5.5" text-anchor="middle" fill="#1c1c1c" font-weight="bold" stroke="#1c1c1c" stroke-width="0.15">0.8</text>
<text x="292.50" y="526.06" font-size="5.5" text-anchor="middle" fill="#1c1c1c" font-weight="bold" stroke="#1c1c1c" stroke-width="0.15">1.0</text>
<text x="292.50" y="535.75" font-size="5.5" text-anchor="middle" fill="#1c1c1c" font-weight="bold" stroke="#1c1c1c" stroke-width="0.15">0.8</text>
<text x="321.56" y="516.37" font-size="5.5" text-anchor="middle" fill="#1c1c1c" font-weight="bold" stroke="#1c1c1c" stroke-width="0.15">0.8</text>
<text x="321.56" y="526.06" font-size="5.5" text-anchor="middle" fill="#1c1c1c" font-weight="bold" stroke="#1c1c1c" stroke-width="0.15">1.0</text>
<text x="321.56" y="535.75" font-size="5.5" text-anchor="middle" fill="#1c1c1c" font-weight="bold" stroke="#1c1c1c" stroke-width="0.15">0.8</text>
<text x="350.63" y="516.37" font-size="5.5" text-anchor="middle" fill="#1c1c1c" font-weight="bold" stroke="#1c1c1c" stroke-width="0.15">0.9</text>
<text x="350.63" y="526.06" font-size="5.5" text-anchor="middle" fill="#1c1c1c" font-weight="bold" stroke="#1c1c1c" stroke-width="0.15">1.0</text>
<text x="350.63" y="535.75" font-size="5.5" text-anchor="middle" fill="#1c1c1c" font-weight="bold" stroke="#1c1c1c" stroke-width="0.15">0.8</text>
<text x="379.70" y="527.81" font-size="10.1" text-anchor="middle" fill="#234740" stroke="#234740" stroke-width="0.1">100.0</text>
<text x="408.77" y="527.81" font-size="10.4" text-anchor="middle" fill="#16334f" stroke="#16334f" stroke-width="0.25">70.3</text>
<text x="437.84" y="527.81" font-size="10.4" text-anchor="middle" fill="#16334f" stroke="#16334f" stroke-width="0.25">70.1</text>
<text x="59.94" y="545.44" font-size="5.5" text-anchor="middle" fill="#1c1c1c" font-weight="bold" stroke="#1c1c1c" stroke-width="0.15">0.2</text>
<text x="59.94" y="555.13" font-size="5.5" text-anchor="middle" fill="#1c1c1c" font-weight="bold" stroke="#1c1c1c" stroke-width="0.15">0.9</text>
<text x="59.94" y="564.82" font-size="5.5" text-anchor="middle" fill="#1c1c1c" font-weight="bold" stroke="#1c1c1c" stroke-width="0.15">0.2</text>
<text x="89.00" y="545.44" font-size="5.5" text-anchor="middle" fill="#1c1c1c" font-weight="bold" stroke="#1c1c1c" stroke-width="0.15">0.3</text>
<text x="89.00" y="555.13" font-size="5.5" text-anchor="middle" fill="#1c1c1c" font-weight="bold" stroke="#1c1c1c" stroke-width="0.15">1.0</text>
<text x="89.00" y="564.82" font-size="5.5" text-anchor="middle" fill="#1c1c1c" font-weight="bold" stroke="#1c1c1c" stroke-width="0.15">0.3</text>
<text x="118.07" y="545.44" font-size="5.5" text-anchor="middle" fill="#1c1c1c" font-weight="bold" stroke="#1c1c1c" stroke-width="0.15">0.3</text>
<text x="118.07" y="555.13" font-size="5.5" text-anchor="middle" fill="#1c1c1c" font-weight="bold" stroke="#1c1c1c" stroke-width="0.15">1.0</text>
<text x="118.07" y="564.82" font-size="5.5" text-anchor="middle" fill="#1c1c1c" font-weight="bold" stroke="#1c1c1c" stroke-width="0.15">0.3</text>
<text x="147.15" y="545.44" font-size="5.5" text-anchor="middle" fill="#1c1c1c" font-weight="bold" stroke="#1c1c1c" stroke-width="0.15">0.3</text>
<text x="147.15" y="555.13" font-size="5.5" text-anchor="middle" fill="#1c1c1c" font-weight="bold" stroke="#1c1c1c" stroke-width="0.15">1.0</text>
<text x="147.15" y="564.82" font-size="5.5" text-anchor="middle" fill="#1c1c1c" font-weight="bold" stroke="#1c1c1c" stroke-width="0.15">0.3</text>
<text x="176.22" y="545.44" font-size="5.5" text-anchor="middle" fill="#1c1c1c" font-weight="bold" stroke="#1c1c1c" stroke-width="0.15">0.3</text>
<text x="176.22" y="555.13" font-size="5.5" text-anchor="middle" fill="#1c1c1c" font-weight="bold" stroke="#1c1c1c" stroke-width="0.15">0.9</text>
<text x="176.22" y="564.82" font-size="5.5" text-anchor="middle" fill="#1c1c1c" font-weight="bold" stroke="#1c1c1c" stroke-width="0.15">0.3</text>
<text x="205.28" y="545.44" font-size="5.5" text-anchor="middle" fill="#1c1c1c" font-weight="bold" stroke="#1c1c1c" stroke-width="0.15">0.3</text>
<text x="205.28" y="555.13" font-size="5.5" text-anchor="middle" fill="#1c1c1c" font-weight="bold" stroke="#1c1c1c" stroke-width="0.15">0.9</text>
<text x="205.28" y="564.82" font-size="5.5" text-anchor="middle" fill="#1c1c1c" font-weight="bold" stroke="#1c1c1c" stroke-width="0.15">0.3</text>
<text x="234.36" y="545.44" font-size="5.5" text-anchor="middle" fill="#1c1c1c" font-weight="bold" stroke="#1c1c1c" stroke-width="0.15">0.3</text>
<text x="234.36" y="555.13" font-size="5.5" text-anchor="middle" fill="#1c1c1c" font-weight="bold" stroke="#1c1c1c" stroke-width="0.15">0.9</text>
<text x="234.36" y="564.82" font-size="5.5" text-anchor="middle" fill="#1c1c1c" font-weight="bold" stroke="#1c1c1c" stroke-width="0.15">0.3</text>
<text x="263.43" y="545.44" font-size="5.5" text-anchor="middle" fill="#1c1c1c" font-weight="bold" stroke="#1c1c1c" stroke-width="0.15">0.3</text>
<text x="263.43" y="555.13" font-size="5.5" text-anchor="middle" fill="#1c1c1c" font-weight="bold" stroke="#1c1c1c" stroke-width="0.15">0.9</text>
<text x="263.43" y="564.82" font-size="5.5" text-anchor="middle" fill="#1c1c1c" font-weight="bold" stroke="#1c1c1c" stroke-width="0.15">0.4</text>
<text x="292.50" y="545.44" font-size="5.5" text-anchor="middle" fill="#1c1c1c" font-weight="bold" stroke="#1c1c1c" stroke-width="0.15">0.8</text>
<text x="292.50" y="555.13" font-size="5.5" text-anchor="middle" fill="#1c1c1c" font-weight="bold" stroke="#1c1c1c" stroke-width="0.15">1.0</text>
<text x="292.50" y="564.82" font-size="5.5" text-anchor="middle" fill="#1c1c1c" font-weight="bold" stroke="#1c1c1c" stroke-width="0.15">0.9</text>
<text x="321.56" y="545.44" font-size="5.5" text-anchor="middle" fill="#1c1c1c" font-weight="bold" stroke="#1c1c1c" stroke-width="0.15">0.8</text>
<text x="321.56" y="555.13" font-size="5.5" text-anchor="middle" fill="#1c1c1c" font-weight="bold" stroke="#1c1c1c" stroke-width="0.15">1.0</text>
<text x="321.56" y="564.82" font-size="5.5" text-anchor="middle" fill="#1c1c1c" font-weight="bold" stroke="#1c1c1c" stroke-width="0.15">0.9</text>
<text x="350.63" y="545.44" font-size="5.5" text-anchor="middle" fill="#1c1c1c" font-weight="bold" stroke="#1c1c1c" stroke-width="0.15">0.8</text>
<text x="350.63" y="555.13" font-size="5.5" text-anchor="middle" fill="#1c1c1c" font-weight="bold" stroke="#1c1c1c" stroke-width="0.15">1.0</text>
<text x="350.63" y="564.82" font-size="5.5" text-anchor="middle" fill="#1c1c1c" font-weight="bold" stroke="#1c1c1c" stroke-width="0.15">0.8</text>
<text x="379.70" y="545.44" font-size="5.5" text-anchor="middle" fill="#1c1c1c" font-weight="bold" stroke="#1c1c1c" stroke-width="0.15">0.8</text>
<text x="379.70" y="555.13" font-size="5.5" text-anchor="middle" fill="#1c1c1c" font-weight="bold" stroke="#1c1c1c" stroke-width="0.15">1.0</text>
<text x="379.70" y="564.82" font-size="5.5" text-anchor="middle" fill="#1c1c1c" font-weight="bold" stroke="#1c1c1c" stroke-width="0.15">0.8</text>
<text x="408.77" y="556.88" font-size="10.1" text-anchor="middle" fill="#234740" stroke="#234740" stroke-width="0.1">100.0</text>
<text x="437.84" y="556.88" font-size="10.4" text-anchor="middle" fill="#16334f" stroke="#16334f" stroke-width="0.25">86.6</text>
<text x="59.94" y="574.51" font-size="5.5" text-anchor="middle" fill="#1c1c1c" font-weight="bold" stroke="#1c1c1c" stroke-width="0.15">0.2</text>
<text x="59.94" y="584.20" font-size="5.5" text-anchor="middle" fill="#1c1c1c" font-weight="bold" stroke="#1c1c1c" stroke-width="0.15">0.9</text>
<text x="59.94" y="593.89" font-size="5.5" text-anchor="middle" fill="#1c1c1c" font-weight="bold" stroke="#1c1c1c" stroke-width="0.15">0.2</text>
<text x="89.00" y="574.51" font-size="5.5" text-anchor="middle" fill="#1c1c1c" font-weight="bold" stroke="#1c1c1c" stroke-width="0.15">0.3</text>
<text x="89.00" y="584.20" font-size="5.5" text-anchor="middle" fill="#1c1c1c" font-weight="bold" stroke="#1c1c1c" stroke-width="0.15">1.0</text>
<text x="89.00" y="593.89" font-size="5.5" text-anchor="middle" fill="#1c1c1c" font-weight="bold" stroke="#1c1c1c" stroke-width="0.15">0.3</text>
<text x="118.07" y="574.51" font-size="5.5" text-anchor="middle" fill="#1c1c1c" font-weight="bold" stroke="#1c1c1c" stroke-width="0.15">0.3</text>
<text x="118.07" y="584.20" font-size="5.5" text-anchor="middle" fill="#1c1c1c" font-weight="bold" stroke="#1c1c1c" stroke-width="0.15">1.0</text>
<text x="118.07" y="593.89" font-size="5.5" text-anchor="middle" fill="#1c1c1c" font-weight="bold" stroke="#1c1c1c" stroke-width="0.15">0.3</text>
<text x="147.15" y="574.51" font-size="5.5" text-anchor="middle" fill="#1c1c1c" font-weight="bold" stroke="#1c1c1c" stroke-width="0.15">0.3</text>
<text x="147.15" y="584.20" font-size="5.5" text-anchor="middle" fill="#1c1c1c" font-weight="bold" stroke="#1c1c1c" stroke-width="0.15">1.0</text>
<text x="147.15" y="593.89" font-size="5.5" text-anchor="middle" fill="#1c1c1c" font-weight="bold" stroke="#1c1c1c" stroke-width="0.15">0.3</text>
<text x="176.22" y="574.51" font-size="5.5" text-anchor="middle" fill="#1c1c1c" font-weight="bold" stroke="#1c1c1c" stroke-width="0.15">0.3</text>
<text x="176.22" y="584.20" font-size="5.5" text-anchor="middle" fill="#1c1c1c" font-weight="bold" stroke="#1c1c1c" stroke-width="0.15">0.9</text>
<text x="176.22" y="593.89" font-size="5.5" text-anchor="middle" fill="#1c1c1c" font-weight="bold" stroke="#1c1c1c" stroke-width="0.15">0.3</text>
<text x="205.28" y="574.51" font-size="5.5" text-anchor="middle" fill="#1c1c1c" font-weight="bold" stroke="#1c1c1c" stroke-width="0.15">0.3</text>
<text x="205.28" y="584.20" font-size="5.5" text-anchor="middle" fill="#1c1c1c" font-weight="bold" stroke="#1c1c1c" stroke-width="0.15">0.9</text>
<text x="205.28" y="593.89" font-size="5.5" text-anchor="middle" fill="#1c1c1c" font-weight="bold" stroke="#1c1c1c" stroke-width="0.15">0.3</text>
<text x="234.36" y="574.51" font-size="5.5" text-anchor="middle" fill="#1c1c1c" font-weight="bold" stroke="#1c1c1c" stroke-width="0.15">0.3</text>
<text x="234.36" y="584.20" font-size="5.5" text-anchor="middle" fill="#1c1c1c" font-weight="bold" stroke="#1c1c1c" stroke-width="0.15">0.9</text>
<text x="234.36" y="593.89" font-size="5.5" text-anchor="middle" fill="#1c1c1c" font-weight="bold" stroke="#1c1c1c" stroke-width="0.15">0.3</text>
<text x="263.43" y="574.51" font-size="5.5" text-anchor="middle" fill="#1c1c1c" font-weight="bold" stroke="#1c1c1c" stroke-width="0.15">0.3</text>
<text x="263.43" y="584.20" font-size="5.5" text-anchor="middle" fill="#1c1c1c" font-weight="bold" stroke="#1c1c1c" stroke-width="0.15">0.9</text>
<text x="263.43" y="593.89" font-size="5.5" text-anchor="middle" fill="#1c1c1c" font-weight="bold" stroke="#1c1c1c" stroke-width="0.15">0.3</text>
<text x="292.50" y="574.51" font-size="5.5" text-anchor="middle" fill="#1c1c1c" font-weight="bold" stroke="#1c1c1c" stroke-width="0.15">0.9</text>
<text x="292.50" y="584.20" font-size="5.5" text-anchor="middle" fill="#1c1c1c" font-weight="bold" stroke="#1c1c1c" stroke-width="0.15">1.0</text>
<text x="292.50" y="593.89" font-size="5.5" text-anchor="middle" fill="#1c1c1c" font-weight="bold" stroke="#1c1c1c" stroke-width="0.15">0.9</text>
<text x="321.56" y="574.51" font-size="5.5" text-anchor="middle" fill="#1c1c1c" font-weight="bold" stroke="#1c1c1c" stroke-width="0.15">0.9</text>
<text x="321.56" y="584.20" font-size="5.5" text-anchor="middle" fill="#1c1c1c" font-weight="bold" stroke="#1c1c1c" stroke-width="0.15">1.0</text>
<text x="321.56" y="593.89" font-size="5.5" text-anchor="middle" fill="#1c1c1c" font-weight="bold" stroke="#1c1c1c" stroke-width="0.15">0.9</text>
<text x="350.63" y="574.51" font-size="5.5" text-anchor="middle" fill="#1c1c1c" font-weight="bold" stroke="#1c1c1c" stroke-width="0.15">0.8</text>
<text x="350.63" y="584.20" font-size="5.5" text-anchor="middle" fill="#1c1c1c" font-weight="bold" stroke="#1c1c1c" stroke-width="0.15">1.0</text>
<text x="350.63" y="593.89" font-size="5.5" text-anchor="middle" fill="#1c1c1c" font-weight="bold" stroke="#1c1c1c" stroke-width="0.15">0.8</text>
<text x="379.70" y="574.51" font-size="5.5" text-anchor="middle" fill="#1c1c1c" font-weight="bold" stroke="#1c1c1c" stroke-width="0.15">0.8</text>
<text x="379.70" y="584.20" font-size="5.5" text-anchor="middle" fill="#1c1c1c" font-weight="bold" stroke="#1c1c1c" stroke-width="0.15">1.0</text>
<text x="379.70" y="593.89" font-size="5.5" text-anchor="middle" fill="#1c1c1c" font-weight="bold" stroke="#1c1c1c" stroke-width="0.15">0.8</text>
<text x="408.77" y="574.51" font-size="5.5" text-anchor="middle" fill="#1c1c1c" font-weight="bold" stroke="#1c1c1c" stroke-width="0.15">0.9</text>
<text x="408.77" y="584.20" font-size="5.5" text-anchor="middle" fill="#1c1c1c" font-weight="bold" stroke="#1c1c1c" stroke-width="0.15">1.0</text>
<text x="408.77" y="593.89" font-size="5.5" text-anchor="middle" fill="#1c1c1c" font-weight="bold" stroke="#1c1c1c" stroke-width="0.15">0.9</text>
<text x="437.84" y="585.95" font-size="10.1" text-anchor="middle" fill="#234740" stroke="#234740" stroke-width="0.1">100.0</text>
<text x="456.68" y="209.74" font-size="16.0" text-anchor="start" fill="#111" stroke="#111" stroke-width="0.45">Cota</text>
<text x="456.68" y="238.81" font-size="16.0" text-anchor="start" fill="#111" stroke="#111" stroke-width="0.45">Lull</text>
<text x="456.68" y="267.88" font-size="16.0" text-anchor="start" fill="#111" stroke="#111" stroke-width="0.45">Quill</text>
<text x="456.68" y="296.94" font-size="16.0" text-anchor="start" fill="#111" stroke="#111" stroke-width="0.45">Scott</text>
<text x="456.68" y="326.01" font-size="16.0" text-anchor="start" fill="#111" stroke="#111" stroke-width="0.45">AA</text>
<text x="456.68" y="355.08" font-size="16.0" text-anchor="start" fill="#111" stroke="#111" stroke-width="0.45">BC</text>
<text x="456.68" y="384.15" font-size="16.0" text-anchor="start" fill="#111" stroke="#111" stroke-width="0.45">Babayka</text>
<text x="456.68" y="413.23" font-size="16.0" text-anchor="start" fill="#111" stroke="#111" stroke-width="0.45">Cd1</text>
<text x="456.68" y="442.29" font-size="16.0" text-anchor="start" fill="#111" stroke="#111" stroke-width="0.45">BL199</text>
<text x="456.68" y="471.37" font-size="16.0" text-anchor="start" fill="#111" stroke="#111" stroke-width="0.45">DCM</text>
<text x="456.68" y="500.44" font-size="16.0" text-anchor="start" fill="#111" stroke="#111" stroke-width="0.45">Percy</text>
<text x="456.68" y="529.50" font-size="16.0" text-anchor="start" fill="#111" stroke="#111" stroke-width="0.45">KSC</text>
<text x="456.68" y="558.57" font-size="16.0" text-anchor="start" fill="#111" stroke="#111" stroke-width="0.45">BL198</text>
<text x="456.68" y="587.64" font-size="16.0" text-anchor="start" fill="#111" stroke="#111" stroke-width="0.45">ERS</text>
<text transform="translate(65.23 600.38) rotate(-90)" font-size="16.2" text-anchor="end" fill="#111" stroke="#111" stroke-width="0.45">Cota</text>
<text transform="translate(94.30 600.38) rotate(-90)" font-size="16.2" text-anchor="end" fill="#111" stroke="#111" stroke-width="0.45">Lullwater</text>
<text transform="translate(123.37 600.38) rotate(-90)" font-size="16.2" text-anchor="end" fill="#111" stroke="#111" stroke-width="0.45">Quill</text>
<text transform="translate(152.45 600.38) rotate(-90)" font-size="16.2" text-anchor="end" fill="#111" stroke="#111" stroke-width="0.45">Scott</text>
<text transform="translate(181.52 600.38) rotate(-90)" font-size="16.2" text-anchor="end" fill="#111" stroke="#111" stroke-width="0.45">AA</text>
<text transform="translate(210.59 600.38) rotate(-90)" font-size="16.2" text-anchor="end" fill="#111" stroke="#111" stroke-width="0.45">BC</text>
<text transform="translate(239.66 600.38) rotate(-90)" font-size="16.2" text-anchor="end" fill="#111" stroke="#111" stroke-width="0.45">Babayka</text>
<text transform="translate(268.73 600.38) rotate(-90)" font-size="16.2" text-anchor="end" fill="#111" stroke="#111" stroke-width="0.45">Cd1</text>
<text transform="translate(297.80 600.38) rotate(-90)" font-size="16.2" text-anchor="end" fill="#111" stroke="#111" stroke-width="0.45">BL199</text>
<text transform="translate(326.87 600.38) rotate(-90)" font-size="16.2" text-anchor="end" fill="#111" stroke="#111" stroke-width="0.45">DCM</text>
<text transform="translate(355.94 600.38) rotate(-90)" font-size="16.2" text-anchor="end" fill="#111" stroke="#111" stroke-width="0.45">Percy</text>
<text transform="translate(385.00 600.38) rotate(-90)" font-size="16.2" text-anchor="end" fill="#111" stroke="#111" stroke-width="0.45">KSC</text>
<text transform="translate(414.07 600.38) rotate(-90)" font-size="16.2" text-anchor="end" fill="#111" stroke="#111" stroke-width="0.45">BL198</text>
<text transform="translate(443.14 600.38) rotate(-90)" font-size="16.2" text-anchor="end" fill="#111" stroke="#111" stroke-width="0.45">ERS</text>
<path d="M483.8 223.17 L496.0 223.17 L496.0 274.11 L483.8 274.11" stroke="#111" stroke-width="1.6" fill="none" stroke-linejoin="miter"/>
<text x="505.40" y="231.80" font-size="10.3" text-anchor="middle" fill="#111" stroke="#111" stroke-width="0.35">L</text>
<text x="505.40" y="246.00" font-size="10.3" text-anchor="middle" fill="#111" stroke="#111" stroke-width="0.35">u</text>
<text x="505.40" y="260.00" font-size="10.3" text-anchor="middle" fill="#111" stroke="#111" stroke-width="0.35">l</text>
<text x="505.40" y="274.00" font-size="10.3" text-anchor="middle" fill="#111" stroke="#111" stroke-width="0.35">l</text>
<path d="M505.6 310.48 L526.2 310.48 L526.2 419.36 L505.6 419.36" stroke="#111" stroke-width="1.8" fill="none" stroke-linejoin="miter"/>
<text x="534.80" y="354.80" font-size="10.3" text-anchor="middle" fill="#111" stroke="#111" stroke-width="0.35">C</text>
<text x="534.80" y="368.80" font-size="10.3" text-anchor="middle" fill="#111" stroke="#111" stroke-width="0.35">d</text>
<text x="534.80" y="382.80" font-size="10.3" text-anchor="middle" fill="#111" stroke="#111" stroke-width="0.35">1</text>
<path d="M506.0 424.46 L526.2 424.46 L527.1 604.38 L506.9 604.38" stroke="#111" stroke-width="1.8" fill="none" stroke-linejoin="miter"/>
<text x="534.80" y="491.00" font-size="10.3" text-anchor="middle" fill="#111" stroke="#111" stroke-width="0.35">P</text>
<text x="534.80" y="505.20" font-size="10.3" text-anchor="middle" fill="#111" stroke="#111" stroke-width="0.35">e</text>
<text x="534.80" y="519.40" font-size="10.3" text-anchor="middle" fill="#111" stroke="#111" stroke-width="0.35">r</text>
<text x="534.80" y="533.60" font-size="10.3" text-anchor="middle" fill="#111" stroke="#111" stroke-width="0.35">c</text>
<text x="534.80" y="547.80" font-size="10.3" text-anchor="middle" fill="#111" stroke="#111" stroke-width="0.35">y</text>
</g></svg>
</body></html>
